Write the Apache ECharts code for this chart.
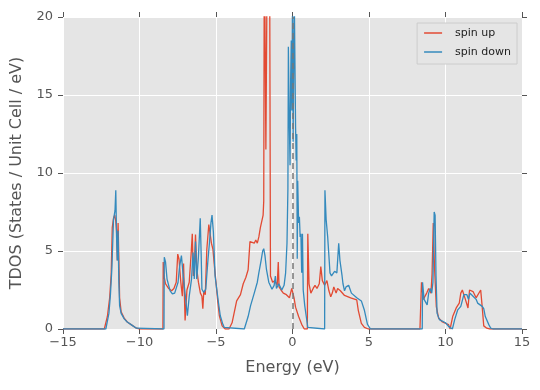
<!DOCTYPE html>
<html>
<head>
<meta charset="utf-8">
<script src="https://cdn.jsdelivr.net/npm/echarts@6/dist/echarts.min.js"></script>
<style>html,body{margin:0;padding:0;background:#fff}#c{width:540px;height:390px}</style>
</head>
<body>
<div id="c"></div>
<script>
const seriesNames = ['spin up', 'spin down'];
const xTicks = [-15, -10, -5, 0, 5, 10, 15];
const yTicks = [0, 5, 10, 15, 20];

const upX = [-15,-12.3,-12.1,-11.95,-11.85,-11.78,-11.7,-11.62,-11.55,-11.5,-11.45,-11.4,-11.35,-11.3,-11.2,-11.0,-10.8,-10.5,-10.2,-10.0,
  -8.47,-8.45,-8.4,-8.3,-8.1,-7.9,-7.75,-7.6,-7.5,-7.42,-7.3,-7.2,-7.12,-7.02,-6.9,-6.75,-6.62,-6.55,-6.48,-6.42,-6.34,-6.25,-6.15,-6.02,-5.92,-5.86,-5.8,-5.7,-5.6,-5.47,-5.39,-5.3,-5.2,-5.1,-5.0,-4.9,-4.78,-4.6,-4.4,
  -4.15,-3.95,-3.65,-3.4,-3.22,-3.05,-2.9,-2.78,-2.65,-2.5,-2.4,-2.3,-2.2,-2.1,-2.0,-1.92,-1.88,-1.84,-1.74,-1.64,-1.5,-1.44,-1.3,-1.15,-1.0,-0.93,-0.88,-0.75,-0.6,-0.4,-0.2,-0.1,-0.05,0.02,0.1,0.2,0.4,0.6,0.77,
  0.97,1.0,1.08,1.2,1.35,1.47,1.6,1.75,1.85,1.95,2.1,2.25,2.38,2.5,2.6,2.7,2.85,2.95,3.13,3.4,3.8,4.2,4.3,4.5,4.7,4.95,
  8.33,8.43,8.55,8.65,8.77,8.9,9.0,9.05,9.12,9.2,9.28,9.4,9.55,9.8,10.2,10.3,10.35,10.47,10.7,10.9,11.0,11.1,11.3,11.4,11.47,11.57,11.8,12.0,12.1,12.3,12.4,12.5,12.7,12.9,15];
const upY = [0,0,0.8,2.0,3.5,6.5,7.1,7.3,6.9,6.3,4.4,6.8,4.5,2.0,1.1,0.7,0.45,0.25,0.05,0,
  0,4.3,3.4,2.9,2.6,2.45,2.6,3.0,4.8,4.5,3.0,2.1,4.2,0.55,2.5,3.0,4.9,6.1,3.4,3.8,6.05,3.8,3.0,2.3,2.1,1.3,2.4,2.2,5.1,6.7,6.8,5.5,5.1,4.0,3.0,1.9,0.85,0.2,0,
  0,0.4,1.8,2.2,2.9,3.3,3.8,5.6,5.6,5.5,5.7,5.5,5.9,6.5,6.6,7.3,8.2,26,11.5,26,26,3.4,3.0,3.1,2.8,4.3,2.7,2.5,2.3,2.2,2.0,1.9,2.6,2.55,2.0,1.4,0.8,0.3,0,
  0,6.1,2.9,2.3,2.6,2.8,2.6,2.9,4.0,3.1,2.8,3.1,2.45,2.07,2.3,2.7,2.3,2.6,2.45,2.15,2.0,1.86,1.2,0.36,0.1,0,
  0,3.0,1.9,2.0,2.3,2.6,2.5,2.3,3.5,6.8,4.0,1.43,0.7,0.45,0.28,0,0.05,0.8,1.35,1.66,2.3,2.5,1.9,2.0,1.35,2.5,2.4,2.0,2.1,2.5,1.4,0.2,0.05,0,0];

const downX = [-15,-12.2,-12.0,-11.9,-11.8,-11.7,-11.6,-11.55,-11.5,-11.45,-11.4,-11.35,-11.3,-11.2,-11.0,-10.8,-10.5,-10.2,-10.1,
  -8.4,-8.38,-8.3,-8.2,-8.0,-7.85,-7.7,-7.48,-7.38,-7.26,-7.16,-7.05,-6.87,-6.75,-6.6,-6.5,-6.42,-6.34,-6.26,-6.15,-6.03,-5.97,-5.92,-5.8,-5.67,-5.52,-5.43,-5.33,-5.26,-5.17,-5.06,-4.95,-4.84,-4.72,-4.55,-4.46,-4.35,
  -3.15,-2.9,-2.74,-2.5,-2.3,-2.2,-2.05,-1.95,-1.88,-1.8,-1.7,-1.55,-1.34,-1.2,-1.12,-1.05,-0.9,-0.8,-0.7,-0.55,-0.45,-0.36,-0.3,-0.27,-0.22,-0.16,-0.12,-0.08,-0.04,0.0,0.04,0.08,0.12,0.16,0.2,0.24,0.28,0.31,0.34,0.4,0.45,0.5,0.55,0.6,0.65,0.7,0.8,0.9,1.0,1.1,
  2.1,2.12,2.2,2.3,2.45,2.55,2.75,2.9,3.02,3.1,3.24,3.3,3.4,3.5,3.6,3.67,3.85,4.2,4.5,4.7,4.9,5.1,
  8.48,8.5,8.6,8.8,8.9,9.0,9.1,9.18,9.26,9.32,9.38,9.45,9.6,10.0,10.2,10.45,10.6,10.8,11.0,11.2,11.4,11.5,11.6,11.67,11.8,12.0,12.1,12.4,12.5,12.6,12.83,12.95,13.1,15];
const downY = [0,0,1.0,2.2,4.0,7.0,7.6,8.9,6.0,4.4,6.3,3.0,1.5,1.0,0.65,0.45,0.25,0.05,0,
  0,4.6,4.3,3.2,2.45,2.25,2.3,3.0,4.0,4.7,3.6,2.55,0.85,2.1,3.2,4.9,3.2,5.6,3.2,4.6,7.1,4.8,2.55,2.35,2.55,4.5,5.5,6.8,7.3,6.2,3.4,2.55,1.7,0.85,0.3,0.1,0,
  0,0.8,1.5,2.3,3.0,3.6,4.4,5.0,5.15,4.7,3.8,3.0,2.55,2.8,3.4,2.6,2.9,3.0,2.5,2.8,3.6,5.5,9.0,18.1,14.0,10.5,16,18.5,14,21,12,17,21,21,13,10.8,12.5,4.5,9.5,6.8,7.2,5.9,6.1,3.6,6.1,2.5,1.5,0.8,0.1,0,
  0,8.9,7.0,5.9,3.6,3.4,3.7,3.6,5.5,4.4,3.4,2.9,2.45,2.7,2.6,2.8,2.3,2.0,1.8,1.2,0.3,0,
  0,3.0,1.9,1.55,2.3,2.6,2.3,3.0,7.5,7.3,3.4,1.0,0.6,0.4,0.17,0,0.6,1.23,1.45,2.2,2.2,1.9,2.3,2.4,2.1,1.9,1.66,1.45,1.3,0.8,0.28,0.06,0,0];

const zip = (xs, ys) => xs.map((x, i) => [x, ys[i]]);
const fmt = v => String(v).replace('-', '\u2212');
const FONT = 'DejaVu Sans';
const GRAY = '#555555';

function xAx(pos, labels) {
  return {
    type: 'value', position: pos, min: xTicks[0], max: xTicks[xTicks.length - 1], interval: 5,
    axisLine: { show: false, onZero: false },
    axisTick: { show: true, inside: false, length: 5, lineStyle: { color: GRAY, width: 1 } },
    axisLabel: { show: labels, formatter: fmt, color: GRAY, fontSize: 13, fontFamily: FONT, margin: 7 },
    splitLine: { show: labels, lineStyle: { color: '#ffffff', width: 1 } },
    name: labels ? 'Energy (eV)' : '', nameLocation: 'middle', nameGap: 31,
    nameTextStyle: { color: GRAY, fontSize: 16, fontFamily: FONT }
  };
}
function yAx(pos, labels) {
  return {
    type: 'value', position: pos, min: yTicks[0], max: yTicks[yTicks.length - 1], interval: 5,
    axisLine: { show: false, onZero: false },
    axisTick: { show: true, inside: false, length: 5, lineStyle: { color: GRAY, width: 1 } },
    axisLabel: { show: labels, formatter: fmt, color: GRAY, fontSize: 13, fontFamily: FONT, margin: 10 },
    splitLine: { show: labels, lineStyle: { color: '#ffffff', width: 1 } },
    name: labels ? 'TDOS (States / Unit Cell / eV)' : '', nameLocation: 'middle', nameGap: 38,
    nameTextStyle: { color: GRAY, fontSize: 16, fontFamily: FONT }
  };
}

const chart = echarts.init(document.getElementById('c'), null, { renderer: 'canvas' });
chart.setOption({
  animation: false,
  backgroundColor: '#ffffff',
  grid: { left: 63, right: 18, top: 17, bottom: 61, show: true, backgroundColor: '#E5E5E5', borderWidth: 0 },
  xAxis: [xAx('bottom', true), xAx('top', false)],
  yAxis: [yAx('left', true), yAx('right', false)],
  legend: {
    orient: 'vertical', right: 23, top: 23,
    data: seriesNames,
    icon: 'rect', itemWidth: 18, itemHeight: 1.5, itemGap: 5,
    padding: [3, 6, 5, 7],
    backgroundColor: '#E5E5E5', borderColor: '#cccccc', borderWidth: 1,
    textStyle: { fontSize: 11, fontFamily: FONT, color: '#222222', lineHeight: 14, padding: [0, 0, 0, 8] }
  },
  series: [
    {
      name: seriesNames[0], type: 'line', data: zip(upX, upY), xAxisIndex: 0, yAxisIndex: 0,
      showSymbol: false, symbol: 'none', clip: true,
      color: '#E24A33', lineStyle: { color: '#E24A33', width: 1.3 }
    },
    {
      name: seriesNames[1], type: 'line', data: zip(downX, downY), xAxisIndex: 0, yAxisIndex: 0,
      showSymbol: false, symbol: 'none', clip: true,
      color: '#348ABD', lineStyle: { color: '#348ABD', width: 1.3 },
      markLine: {
        silent: true, symbol: 'none', label: { show: false },
        lineStyle: { color: '#777777', type: [6, 4], width: 1.5 },
        data: [{ xAxis: 0 }]
      }
    }
  ]
});
</script>
</body>
</html>
